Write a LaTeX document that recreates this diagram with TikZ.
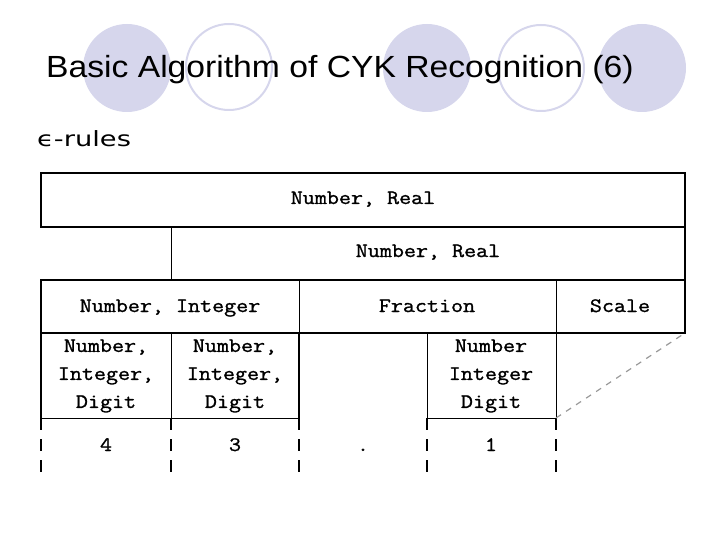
\documentclass[tikz,border=0pt]{standalone}
\usepackage{fontspec}
\usepackage{graphicx}
\setmainfont{Liberation Sans}
\newfontfamily\cellfont[FakeBold=1.2,FakeStretch=1.14]{Latin Modern Mono}
\newfontfamily\epsfont{DejaVu Sans}
\definecolor{lavender}{RGB}{214,214,236}

\begin{document}
\begin{tikzpicture}[x=1pt,y=-1pt,
  bubble/.style={fill=lavender},
  ring/.style={draw=lavender,line width=2pt},
  heading/.style={anchor=base west,inner sep=0pt,font=\fontsize{30.6}{36}\selectfont},
  cell/.style={inner sep=0pt,align=center,font=\cellfont\fontsize{20.5}{28}\selectfont},
  heavy/.style={line width=2pt,line cap=rect},
  light/.style={line width=1pt},
  cut/.style={line width=1.3pt,dash pattern=on 12pt off 9pt},
  fold/.style={draw=gray!80,line width=1.2pt,dash pattern=on 6pt off 6pt}]

\useasboundingbox (0,0) rectangle (720,540);

\fill[bubble] (127,68) circle (44pt);
\fill[bubble] (427,68) circle (44pt);
\fill[bubble] (642,68) circle (44pt);
\draw[ring] (229,67) circle (43pt);
\draw[ring] (541,68) circle (43pt);

\node[heading] (title) at (46,78) {\scalebox{1.1}[1]{Basic Algorithm of CYK Recognition (6)}};
\node[heading,font=\epsfont\fontsize{21}{24}\selectfont] (eps) at (37,147) {\scalebox{1.3}[1]{ϵ-rules}};

\draw[heavy] (41,227) -- (41,173) -- (685,173) -- (685,333);
\draw[heavy] (41,227) -- (685,227);
\draw[heavy] (41,418) -- (41,280) -- (685,280);
\draw[heavy] (41,333) -- (685,333);
\draw[heavy] (299,333) -- (299,418);
\draw[light] (171,227) -- (171,280);
\draw[light] (299,280) -- (299,333) (556,280) -- (556,418);
\draw[light] (171,333) -- (171,418) (427,333) -- (427,418);
\draw[light] (41,418) -- (299,418) (427,418) -- (556,418);
\foreach \x in {41,171,299,427,556}
  \draw[cut] (\x,418) -- (\x,472);
\draw[fold] (556,418) -- (685,333);

\node[cell,anchor=base] (whole) at (363,204) {Number, Real};
\node[cell,anchor=base] (real) at (428,257) {Number, Real};
\node[cell,anchor=base] (int) at (170,312) {Number, Integer};
\node[cell,anchor=base] (frac) at (427,312) {Fraction};
\node[cell,anchor=base] (scale) at (620,312) {Scale};

\node[cell] (dig1) at (106,376) {Number,\\Integer,\\Digit};
\node[cell] (dig2) at (235,376) {Number,\\Integer,\\Digit};
\node[cell] (dig4) at (491,376) {Number\\Integer\\Digit};

\node[cell,anchor=base] (tok1) at (106,451) {4};
\node[cell,anchor=base] (tok2) at (235,451) {3};
\node[cell,anchor=base] (tok3) at (363,451) {.};
\node[cell,anchor=base] (tok4) at (491,451) {1};

\end{tikzpicture}
\end{document}
